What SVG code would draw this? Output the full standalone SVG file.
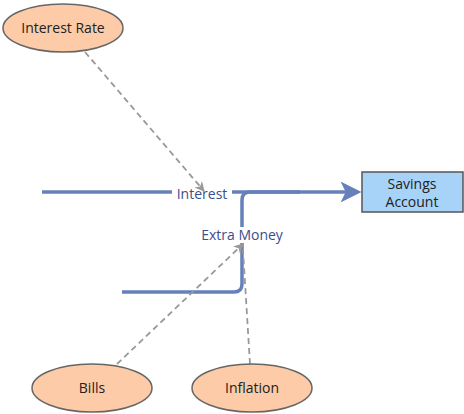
<svg xmlns="http://www.w3.org/2000/svg" width="464" height="414" viewBox="0 0 464 414">
<style>
.stock{fill:#fdcba7;stroke:#666;stroke-width:1.5}
.box{fill:#a6d3f7;stroke:#555;stroke-width:1.5}
.lbl{font-family:"Comic Sans MS","Open Sans","DejaVu Sans",sans-serif;font-size:14px;fill:#222;text-anchor:middle}
.flbl{font-family:"Comic Sans MS","Open Sans","DejaVu Sans",sans-serif;font-size:14px;fill:#3b4f8c;text-anchor:middle}
.flow{fill:none;stroke:#6680bb;stroke-width:3.5}
.link{fill:none;stroke:#999;stroke-width:1.8;stroke-dasharray:6,4}
</style>
<defs>
<marker id="big" markerWidth="6" markerHeight="6" refX="5" refY="3" orient="auto" markerUnits="strokeWidth"><path d="M0,0 L6,3 L0,6 L1.5,3 Z" fill="#6680bb"/></marker>
<marker id="sm" markerWidth="10" markerHeight="10" refX="9" refY="5" orient="auto" markerUnits="userSpaceOnUse"><path d="M0,0 L10,5 L0,10 L3,5 Z" fill="#999"/></marker>
</defs>
<g id="connectors">
<path class="flow" d="M42,192 H358" marker-end="url(#big)"/>
<path class="flow" d="M122,292 H234 Q242,292 242,284 V200 Q242,192 250,192 H300" stroke-width="4"/>
<rect x="172" y="186" width="60" height="14" fill="#fff"/>
<rect x="196" y="227" width="92" height="16" fill="#fff"/>
<text class="flbl" x="202" y="199">Interest</text>
<text class="flbl" x="242" y="240">Extra Money</text>
<path class="link" d="M85,52 L204,191" marker-end="url(#sm)"/>
<path class="link" d="M117,364 L243,244" marker-end="url(#sm)"/>
<path class="link" d="M250,364 L243,250"/>
</g>
<g id="interest-rate"><ellipse class="stock" cx="63" cy="28" rx="60" ry="24"/><text class="lbl" x="63" y="33">Interest Rate</text></g>
<g id="savings-account"><rect class="box" x="362" y="172" width="101" height="40"/><text class="lbl" x="412" y="189">Savings</text><text class="lbl" x="412" y="207">Account</text></g>
<g id="bills"><ellipse class="stock" cx="92" cy="388" rx="60" ry="24"/><text class="lbl" x="92" y="393">Bills</text></g>
<g id="inflation"><ellipse class="stock" cx="252" cy="388" rx="60" ry="24"/><text class="lbl" x="252" y="393">Inflation</text></g>
</svg>
